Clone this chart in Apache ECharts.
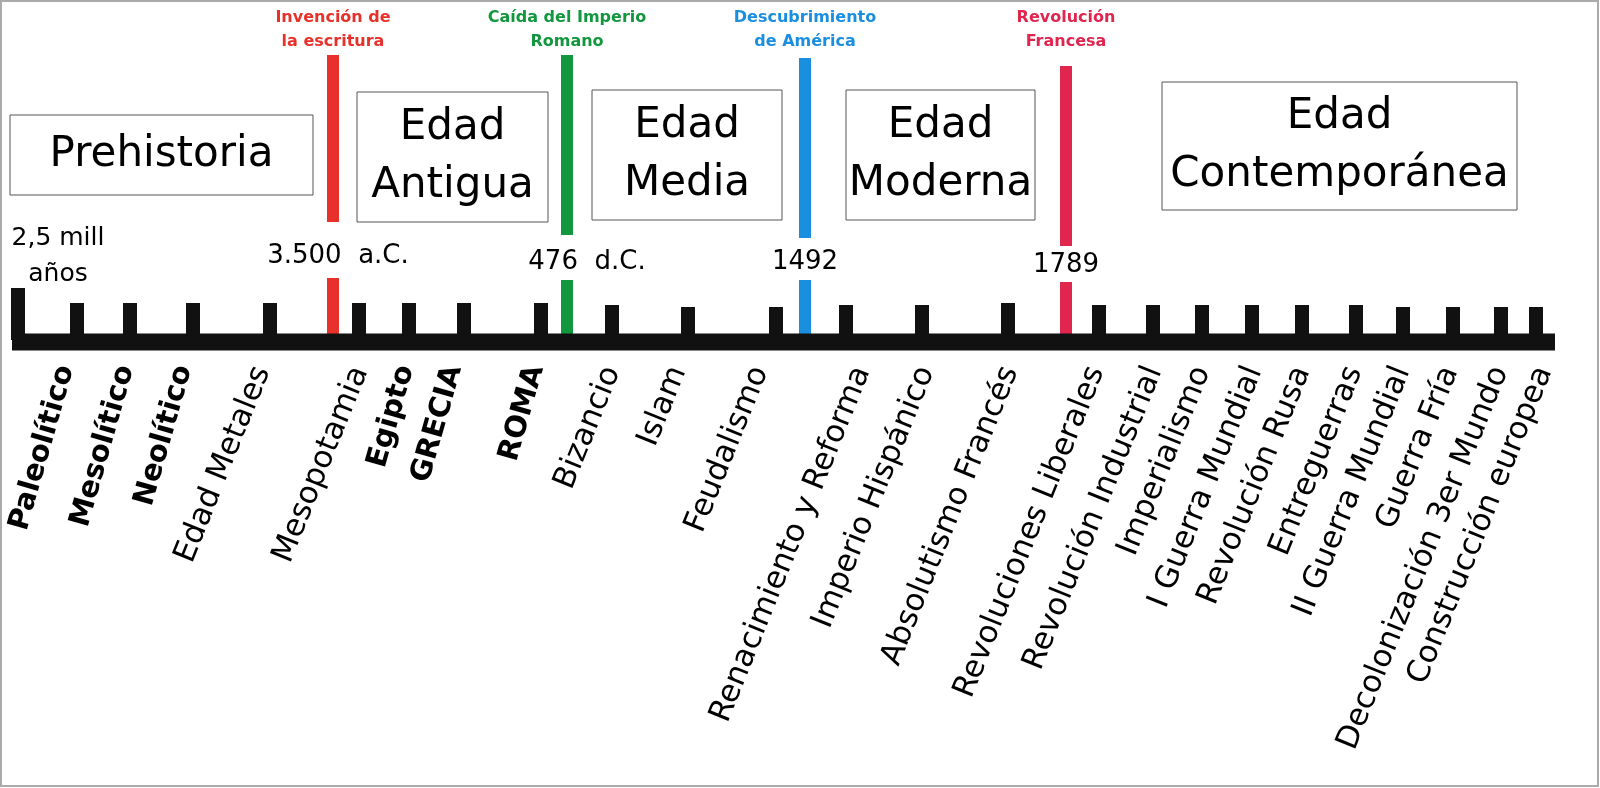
<!DOCTYPE html>
<html lang="es">
<head>
<meta charset="UTF-8">
<title>Línea del tiempo</title>
<script src="https://cdn.jsdelivr.net/npm/echarts@6/dist/echarts.min.js"></script>
<style>html,body{margin:0;padding:0;background:#fff;overflow:hidden}#chart{width:100vw;height:100vh}</style>
</head>
<body>
<div id="chart"></div>
<script>
// etapas bajo la línea: nombre, posición x del final del texto, destacada (negrita)
var etapas = ['Paleolítico','Mesolítico','Neolítico','Edad Metales','Mesopotamia','Egipto','GRECIA','ROMA','Bizancio','Islam','Feudalismo','Renacimiento y Reforma','Imperio Hispánico','Absolutismo Francés','Revoluciones Liberales','Revolución Industrial','Imperialismo','I Guerra Mundial','Revolución Rusa','Entreguerras','II Guerra Mundial','Guerra Fría','Decolonización 3er Mundo','Construcción europea'];
var etapasX = [52,112,170,248,346,392,440,522,598,664,746,848,912,996,1082,1140,1188,1240,1288,1340,1388,1436,1486,1530];
var destacadas = ['Paleolítico','Mesolítico','Neolítico','Egipto','GRECIA','ROMA'];
// marcas: x, y superior
var marcasX = [18,77,130,193,270,359,409,464,541,612,688,776,846,922,1008,1099,1153,1202,1252,1302,1356,1403,1453,1501,1536];
var marcasTop = [288,303,303,303,303,303,303,303,303,305,307,307,305,305,303,305,305,305,305,305,305,307,307,307,307];
// hitos: nombre, año, x, color
var hitos = ['Invención de\nla escritura','Caída del Imperio\nRomano','Descubrimiento\nde América','Revolución\nFrancesa'];
var hitosFecha = ['3.500  a.C.','476  d.C.','1492','1789'];
var hitosX = [333,567,805,1066];
var hitosColor = ['#e8312a','#12963e','#1a8fe0','#e0254f'];
// edades: texto, caja [x0,y0,x1,y1]
var edades = ['Prehistoria','Edad\nAntigua','Edad\nMedia','Edad\nModerna','Edad\nContemporánea'];
var edadesCaja = [[10,115,313,195],[357,92,548,222],[592,90,782,220],[846,90,1035,220],[1162,82,1517,210]];

var fuente = '"Comic Sans MS", "DejaVu Sans", sans-serif';
var chart = echarts.init(document.getElementById('chart'));

function rectItem(api, x0, y0, x1, y1, style) {
    var a = api.coord([x0, y0]), b = api.coord([x1, y1]);
    return {type: 'rect', shape: {x: a[0], y: a[1], width: b[0] - a[0], height: b[1] - a[1]}, style: style};
}

var option = {
    animation: false,
    grid: {left: 0, right: 0, top: 0, bottom: 0},
    xAxis: {type: 'value', min: 0, max: 1600, show: false},
    yAxis: {type: 'value', min: 0, max: 788, inverse: true, show: false},
    graphic: [{type: 'rect', shape: {x: 1, y: 1, width: 1597, height: 785}, style: {fill: 'none', stroke: '#aaa', lineWidth: 2}}],
    series: [
        {   // cajas de edades
            type: 'custom', renderItem: function (params, api) {
                var c = edadesCaja[params.dataIndex];
                var a = api.coord([c[0], c[1]]), b = api.coord([c[2], c[3]]);
                return {type: 'group', children: [
                    {type: 'rect', shape: {x: a[0], y: a[1], width: b[0] - a[0], height: b[1] - a[1]}, style: {fill: '#fff', stroke: '#555', lineWidth: 1}},
                    {type: 'text', style: {x: (a[0] + b[0]) / 2, y: (a[1] + b[1]) / 2, text: edades[params.dataIndex], align: 'center', verticalAlign: 'middle', font: '42px ' + fuente, lineHeight: 58, fill: '#000'}}
                ]};
            },
            data: edades.map(function (e, i) { return [edadesCaja[i][0], edadesCaja[i][1]]; })
        },
        {   // línea base
            type: 'line', symbol: 'none', lineStyle: {color: '#111', width: 17}, data: [[12, 342], [1555, 342]]
        },
        {   // marcas
            type: 'custom', renderItem: function (params, api) {
                var x = api.value(0), t = api.value(1);
                return rectItem(api, x - 7, t, x + 7, 340, {fill: '#111'});
            },
            data: marcasX.map(function (x, i) { return [x, marcasTop[i]]; })
        },
        {   // barras de hitos
            type: 'custom', renderItem: function (params, api) {
                var i = params.dataIndex, x = api.value(0);
                var s = {fill: hitosColor[i]};
                var top = [55, 55, 58, 66][i], gap0 = [222, 235, 238, 246][i], gap1 = [278, 280, 280, 282][i];
                return {type: 'group', children: [
                    rectItem(api, x - 6, top, x + 6, gap0, s),
                    rectItem(api, x - 6, gap1, x + 6, 336, s)
                ]};
            },
            data: hitosX.map(function (x) { return [x, 0]; })
        },
        {   // textos de hitos
            type: 'scatter', symbolSize: 0, silent: true, itemStyle: {opacity: 1},
            data: hitos.map(function (h, i) {
                return {value: [hitosX[i], 30], label: {show: true, position: 'inside', formatter: h, color: hitosColor[i], fontWeight: 'bold', fontSize: 16, lineHeight: 24, fontFamily: fuente}};
            })
        },
        {   // fechas
            type: 'scatter', symbolSize: 0, silent: true, itemStyle: {opacity: 1},
            data: hitosFecha.map(function (f, i) {
                return {value: [hitosX[i] + [5, 20, 0, 0][i], [256, 262, 262, 265][i]], label: {show: true, position: 'inside', formatter: f, color: '#000', fontSize: 26, fontFamily: fuente}};
            }).concat([{value: [58, 256], label: {show: true, position: 'inside', formatter: '2,5 mill\naños', color: '#000', fontSize: 25, lineHeight: 36, fontFamily: fuente}}])
        },
        {   // etapas
            type: 'scatter', symbolSize: 0, silent: true, itemStyle: {opacity: 1},
            data: etapas.map(function (e, i) {
                var b = destacadas.indexOf(e) >= 0;
                return {value: [etapasX[i], 362], label: {show: true, position: [0, 0], formatter: e, rotate: b ? 74 : 68, align: 'right', verticalAlign: 'top', color: '#000', fontSize: b ? 29 : 31, fontWeight: b ? 'bold' : 'normal', fontFamily: fuente}};
            })
        }
    ]
};
chart.setOption(option);
</script>
</body>
</html>
